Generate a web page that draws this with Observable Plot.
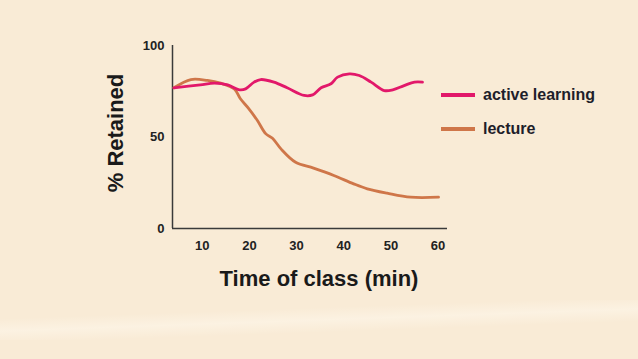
<!DOCTYPE html>
<html>
<head>
<meta charset="utf-8">
<script src="https://cdn.jsdelivr.net/npm/d3@7"></script>
<script src="https://cdn.jsdelivr.net/npm/@observablehq/plot@0.6"></script>
<style>
  html, body { margin: 0; padding: 0; }
  body {
    width: 638px; height: 359px; overflow: hidden; position: relative;
    background: #f9ebd6;
    font-family: "Liberation Sans", Arial, sans-serif;
  }
  #chart { position: absolute; left: 0; top: 0; }
  #chart svg { background: transparent; }
  #chart g[aria-label="x-axis tick label"] text,
  #chart g[aria-label="y-axis tick label"] text { font-size: 13px; font-weight: bold; fill: #222; }
  .legend { position: absolute; left: 441px; top: 82px; }
  .legend .item { display: flex; align-items: center; height: 26px; margin-bottom: 8px; }
  .legend .sw { display: inline-block; width: 34px; height: 4px; margin-right: 8px; }
  .legend .lbl { font-size: 16px; font-weight: bold; color: #1e1e2a; }
  .swoosh { position: absolute; left: 0; top: 300px; width: 638px; height: 40px;
    background: linear-gradient(178deg, rgba(255,255,255,0) 30%, rgba(255,250,240,0.45) 50%, rgba(255,255,255,0) 70%); }
</style>
</head>
<body>
<div class="swoosh"></div>
<div id="chart"></div>
<div class="legend" id="legend"></div>
<script>
const seriesNames = ["active learning", "lecture"];
const seriesColors = ["#e2186a", "#cf7649"];

const activeTime  = [4, 9.6, 12.6, 15.4, 17.9, 19.2, 21, 22.4, 25.2, 28, 31.6, 33.4, 35.2, 37.3, 38.7, 41.2, 43.3, 45.8, 48.6, 50.4, 52.8, 55, 56.7];
const activeValue = [76.9, 78.5, 79.4, 78.5, 75.8, 76.3, 80, 81.4, 80, 76.9, 72.7, 73, 76.9, 79.1, 82.7, 84.5, 83.6, 80, 75.4, 75.8, 78.1, 80, 80];

const lectureTime  = [4, 7.6, 11.1, 13.9, 16.8, 18.1, 19.9, 21.7, 23.5, 24.9, 26.7, 29.8, 33.6, 37.9, 42.1, 45, 49.2, 54.2, 60.1];
const lectureValue = [76.9, 81.4, 80.9, 79.4, 76.3, 70.9, 65.4, 59, 51.7, 49.3, 43.5, 36.2, 33, 29, 24.4, 21.7, 19.3, 17.1, 17.1];

const xTicks = [10, 20, 30, 40, 50, 60];
const yTicks = [0, 50, 100];
const xTitle = "Time of class (min)";
const yTitle = "% Retained";

const active = activeTime.map((t, i) => ({t, v: activeValue[i], s: seriesNames[0]}));
const lecture = lectureTime.map((t, i) => ({t, v: lectureValue[i], s: seriesNames[1]}));

const chart = Plot.plot({
  width: 638,
  height: 359,
  marginLeft: 172,
  marginRight: 191,
  marginTop: 45,
  marginBottom: 131,
  style: {background: "transparent", fontFamily: "Liberation Sans, Arial, sans-serif"},
  x: {domain: [3.7, 62]},
  y: {domain: [0, 100]},
  color: {domain: seriesNames, range: seriesColors},
  marks: [
    Plot.axisX({ticks: xTicks, tickSize: 0, tickPadding: 12, label: null}),
    Plot.axisY({ticks: yTicks, tickSize: 0, tickPadding: 8, label: null}),
    Plot.text([xTitle], {frameAnchor: "bottom", dx: 9, dy: 50, text: d => d, fontSize: 22, fontWeight: "bold", fill: "#1a1a1a", lineAnchor: "middle", textAnchor: "middle"}),
    Plot.text([yTitle], {frameAnchor: "left", dx: -57, dy: -4, rotate: -90, text: d => d, fontSize: 22, fontWeight: "bold", fill: "#1a1a1a", lineAnchor: "middle", textAnchor: "middle"}),
    Plot.ruleX([3.7], {stroke: "#3a3a3a", strokeWidth: 1.5}),
    Plot.ruleY([0], {stroke: "#3a3a3a", strokeWidth: 1.5}),
    Plot.line(lecture, {x: "t", y: "v", stroke: "s", strokeWidth: 2.8, curve: "catmull-rom"}),
    Plot.line(active, {x: "t", y: "v", stroke: "s", strokeWidth: 2.8, curve: "catmull-rom"})
  ]
});
document.getElementById("chart").appendChild(chart);

const legend = document.getElementById("legend");
seriesNames.forEach((name, i) => {
  const item = document.createElement("div");
  item.className = "item";
  const sw = document.createElement("span");
  sw.className = "sw";
  sw.style.background = seriesColors[i];
  const lbl = document.createElement("span");
  lbl.className = "lbl";
  lbl.textContent = name;
  item.appendChild(sw); item.appendChild(lbl);
  legend.appendChild(item);
});
</script>
</body>
</html>
